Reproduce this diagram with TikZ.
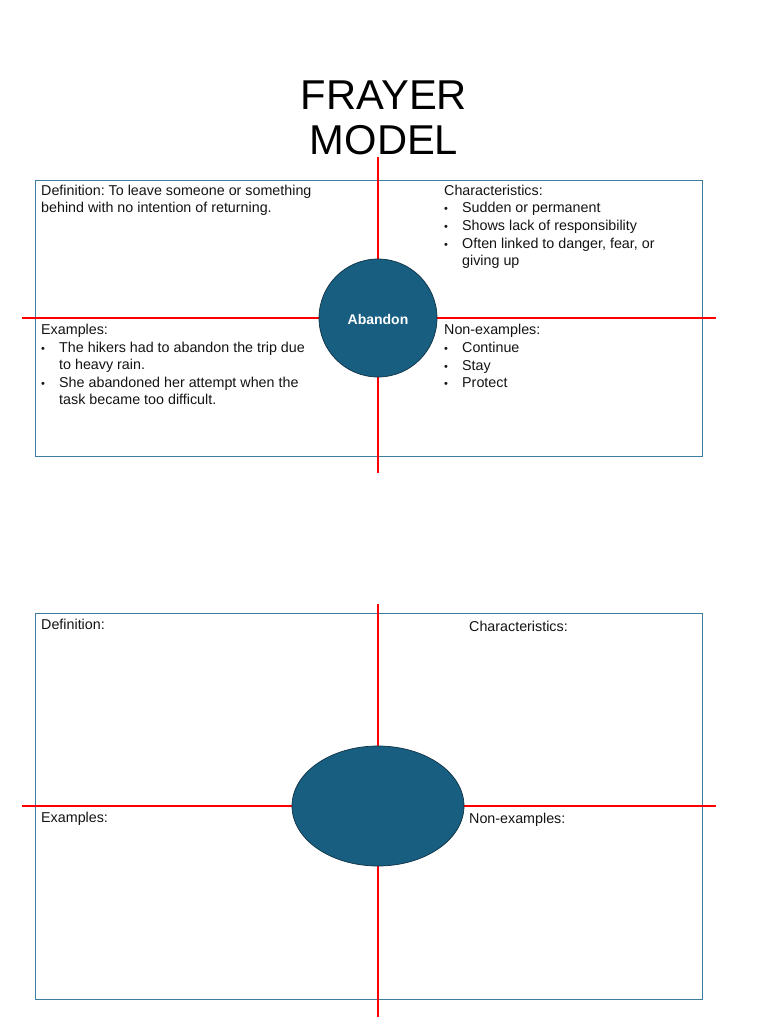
\documentclass[tikz,border=0pt]{standalone}
\usepackage{fontspec}
\setmainfont{Liberation Sans}
\frenchspacing
\usetikzlibrary{shapes.geometric}
\definecolor{boxline}{RGB}{60,125,160}
\definecolor{hubfill}{RGB}{23,94,128}
\definecolor{hubline}{RGB}{15,50,70}
\definecolor{txt}{RGB}{20,20,20}
\newcommand{\blt}{{\fontsize{11}{11}\selectfont\textbullet}}
\begin{document}
\begin{tikzpicture}[x=1pt,y=-1pt,
  frame/.style={draw=boxline,line width=0.8pt},
  axis/.style={draw=red,line width=1.2pt},
  hub/.style={fill=hubfill,draw=hubline,line width=0.7pt},
  body/.style={anchor=base west,inner sep=0pt,text=txt,font=\fontsize{14.3}{17}\selectfont},
  title/.style={anchor=base,inner sep=0pt,font=\fontsize{41.7}{45}\selectfont}]
\useasboundingbox (0,0) rectangle (768,1024);
\fill[white] (0,0) rectangle (768,1024);
% title
\node[title] (t1) at (384,110) {FRAYER};
\node[title] (t2) at (384,155) {MODEL};
% ---------- model 1 ----------
\draw[frame] (35,180) rectangle (702,456);
\coordinate (v1a) at (378,157);
\coordinate (v1b) at (378,473);
\coordinate (h1a) at (22,318);
\coordinate (h1b) at (716,318);
\draw[axis] (v1a) -- (v1b);
\draw[axis] (h1a) -- (h1b);
\node[hub,circle,minimum size=118pt,inner sep=0pt] (c1) at (378,318) {};
\node[anchor=base,inner sep=0pt,text=white,font=\fontsize{14}{16}\selectfont\bfseries] (w1) at (378,324) {Abandon};
% definition
\node[body] (d1) at (41,196) {Definition: To leave someone or something};
\node[body] (d2) at (41,213) {behind with no intention of returning.};
% characteristics
\node[body] (ch) at (444,196) {Characteristics:};
\node[body] (cb1) at (444,213) {\blt};
\node[body] (ct1) at (462,213) {Sudden or permanent};
\node[body] (cb2) at (444,231) {\blt};
\node[body] (ct2) at (462,231) {Shows lack of responsibility};
\node[body] (cb3) at (444,248) {\blt};
\node[body] (ct3) at (462,248) {Often linked to danger, fear, or};
\node[body] (ct4) at (462,265) {giving up};
% examples
\node[body] (ex) at (41,334) {Examples:};
\node[body] (eb1) at (41,352) {\blt};
\node[body] (et1) at (59,352) {The hikers had to abandon the trip due};
\node[body] (et2) at (59,369) {to heavy rain.};
\node[body] (eb2) at (41,387) {\blt};
\node[body] (et3) at (59,387) {She abandoned her attempt when the};
\node[body] (et4) at (59,404) {task became too difficult.};
% non-examples
\node[body] (nx) at (444,334) {Non-examples:};
\node[body] (nb1) at (444,352) {\blt};
\node[body] (nt1) at (462,352) {Continue};
\node[body] (nb2) at (444,370) {\blt};
\node[body] (nt2) at (462,370) {Stay};
\node[body] (nb3) at (444,387) {\blt};
\node[body] (nt3) at (462,387) {Protect};
% ---------- model 2 ----------
\draw[frame] (35,613) rectangle (702,999);
\coordinate (v2a) at (378,604);
\coordinate (v2b) at (378,1017);
\coordinate (h2a) at (22,806);
\coordinate (h2b) at (716,806);
\draw[axis] (v2a) -- (v2b);
\draw[axis] (h2a) -- (h2b);
\node[hub,ellipse,minimum width=172pt,minimum height=120pt,inner sep=0pt] (c2) at (378,806) {};
\node[body] (d3) at (41,629) {Definition:};
\node[body] (ch2) at (469,631) {Characteristics:};
\node[body] (ex2) at (41,822) {Examples:};
\node[body] (nx2) at (469,823) {Non-examples:};
\end{tikzpicture}
\end{document}
